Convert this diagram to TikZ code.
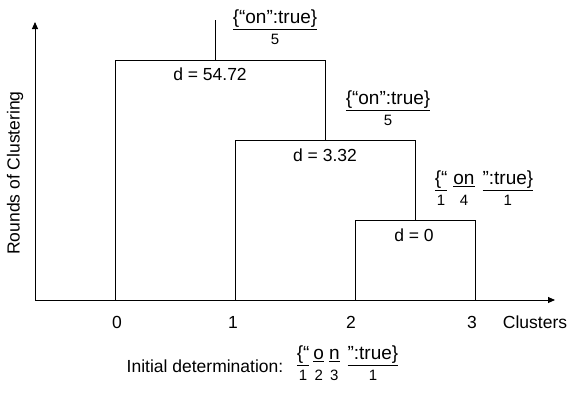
\documentclass[tikz,border=0pt]{standalone}
\usepackage{fontspec}
\setmainfont{Liberation Sans}
\usetikzlibrary{arrows.meta}
\newcommand{\ulfrac}[2]{\begin{tabular}[b]{@{}c@{}}{\fontsize{19}{20}\selectfont\underline{#1}}\\[1pt]{\fontsize{15}{15}\selectfont #2}\end{tabular}}

\begin{document}
\begin{tikzpicture}[x=1pt,y=-1pt,line width=0.9pt,font=\fontsize{17.5}{20}\selectfont]
\useasboundingbox (0,0) rectangle (576,397);
% axes
\draw[-{Triangle[length=7pt,width=6pt]}] (35,300) -- (35,22);
\draw[-{Triangle[length=7pt,width=6pt]}] (35,300) -- (555,300);
\node[rotate=90] (ylab) at (15,173) {Rounds of Clustering};
\node (xlab) at (535,322) {Clusters};
\foreach \i/\x in {0/117,1/233,2/351,3/472} {\node (t\i) at (\x,322) {\i};}
% dendrogram
\draw (215,60) -- (215,20);
\draw (115,300) -- (115,60) -- (325,60) -- (325,140);
\draw (235,300) -- (235,140) -- (415,140) -- (415,220);
\draw (355,300) -- (355,220) -- (475,220) -- (475,300);
\node (d1) at (210,74) {d = 54.72};
\node (d2) at (325,155) {d = 3.32};
\node (d3) at (414,235) {d = 0};
% merged strings
\node (s1) at (275,30) {\ulfrac{\{“on”:true\}}{5}};
\node (s2) at (388,111) {\ulfrac{\{“on”:true\}}{5}};
\node (s3) at (484,191) {\ulfrac{\{“}{1}\hspace{6pt}\ulfrac{on}{4}\hspace{8pt}\ulfrac{”:true\}}{1}};
\node (init) at (205,366) {Initial determination:};
\node[right] (s0) at (293,366) {\ulfrac{\{“}{1}\hspace{4pt}\ulfrac{o}{2}\hspace{5pt}\ulfrac{n}{3}\hspace{8pt}\ulfrac{”:true\}}{1}};
\end{tikzpicture}
\end{document}
